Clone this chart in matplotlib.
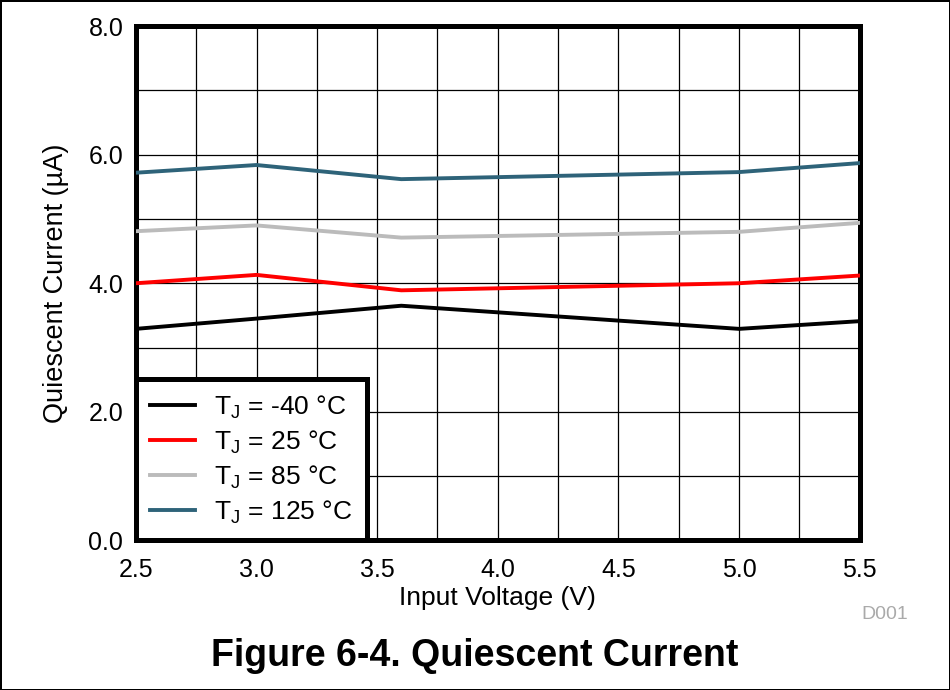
import numpy as np
import matplotlib
matplotlib.use("Agg")
import matplotlib.pyplot as plt
from matplotlib.ticker import MultipleLocator, FormatStrFormatter

plt.rcParams['font.family'] = ['Liberation Sans', 'DejaVu Sans']
plt.rcParams['mathtext.fontset'] = 'custom'
plt.rcParams['mathtext.rm'] = 'Liberation Sans'

vin = [2.5, 3.0, 3.6, 5.0, 5.5]
iq_m40 = [3.29, 3.45, 3.65, 3.29, 3.41]
iq_25 = [4.00, 4.13, 3.89, 4.00, 4.12]
iq_85 = [4.81, 4.90, 4.71, 4.80, 4.94]
iq_125 = [5.72, 5.84, 5.62, 5.73, 5.87]
labels = [r'T$_\mathregular{J}$ = -40 °C', r'T$_\mathregular{J}$ = 25 °C',
          r'T$_\mathregular{J}$ = 85 °C', r'T$_\mathregular{J}$ = 125 °C']
colors = ['black', '#ff0000', '#bbbbbb', '#2e6379']

fig = plt.figure(figsize=(9.5, 6.9), dpi=100)
fig.patch.set_edgecolor('black')
fig.patch.set_linewidth(2)
ax = fig.add_axes([0.143, 0.217, 0.762, 0.745])

for y, c, l in zip([iq_m40, iq_25, iq_85, iq_125], colors, labels):
    ax.plot(vin, y, color=c, lw=2.8, label=l, zorder=3)

ax.set_xlim(2.5, 5.5)
ax.set_ylim(0, 8)
ax.xaxis.set_major_locator(MultipleLocator(0.5))
ax.xaxis.set_minor_locator(MultipleLocator(0.25))
ax.yaxis.set_major_locator(MultipleLocator(2))
ax.yaxis.set_minor_locator(MultipleLocator(1))
ax.xaxis.set_major_formatter(FormatStrFormatter('%.1f'))
ax.yaxis.set_major_formatter(FormatStrFormatter('%.1f'))
ax.grid(True, which='both', color='black', lw=0.9)
ax.tick_params(which='both', length=0, labelsize=18)
ax.tick_params(axis='x', pad=13)
ax.tick_params(axis='y', pad=9)
for s in ax.spines.values():
    s.set_linewidth(3.6)

ax.set_xlabel('Input Voltage (V)', fontsize=19, labelpad=3)
ax.set_ylabel('Quiescent Current (µA)', fontsize=19.5, labelpad=14)

leg = ax.legend(loc='lower left', fontsize=19, frameon=True, fancybox=False,
                edgecolor='black', framealpha=1, borderaxespad=0,
                handlelength=1.7, handletextpad=0.7, labelspacing=0.28,
                borderpad=0.55)
leg.get_frame().set_linewidth(3.6)

fig.text(0.956, 0.103, 'D001', color='#aaaaaa', fontsize=14, ha='right')
fig.text(0.5, 0.035, 'Figure 6-4. Quiescent Current', fontsize=27,
         fontweight='bold', ha='center')

fig.savefig('out.png', dpi=100)
